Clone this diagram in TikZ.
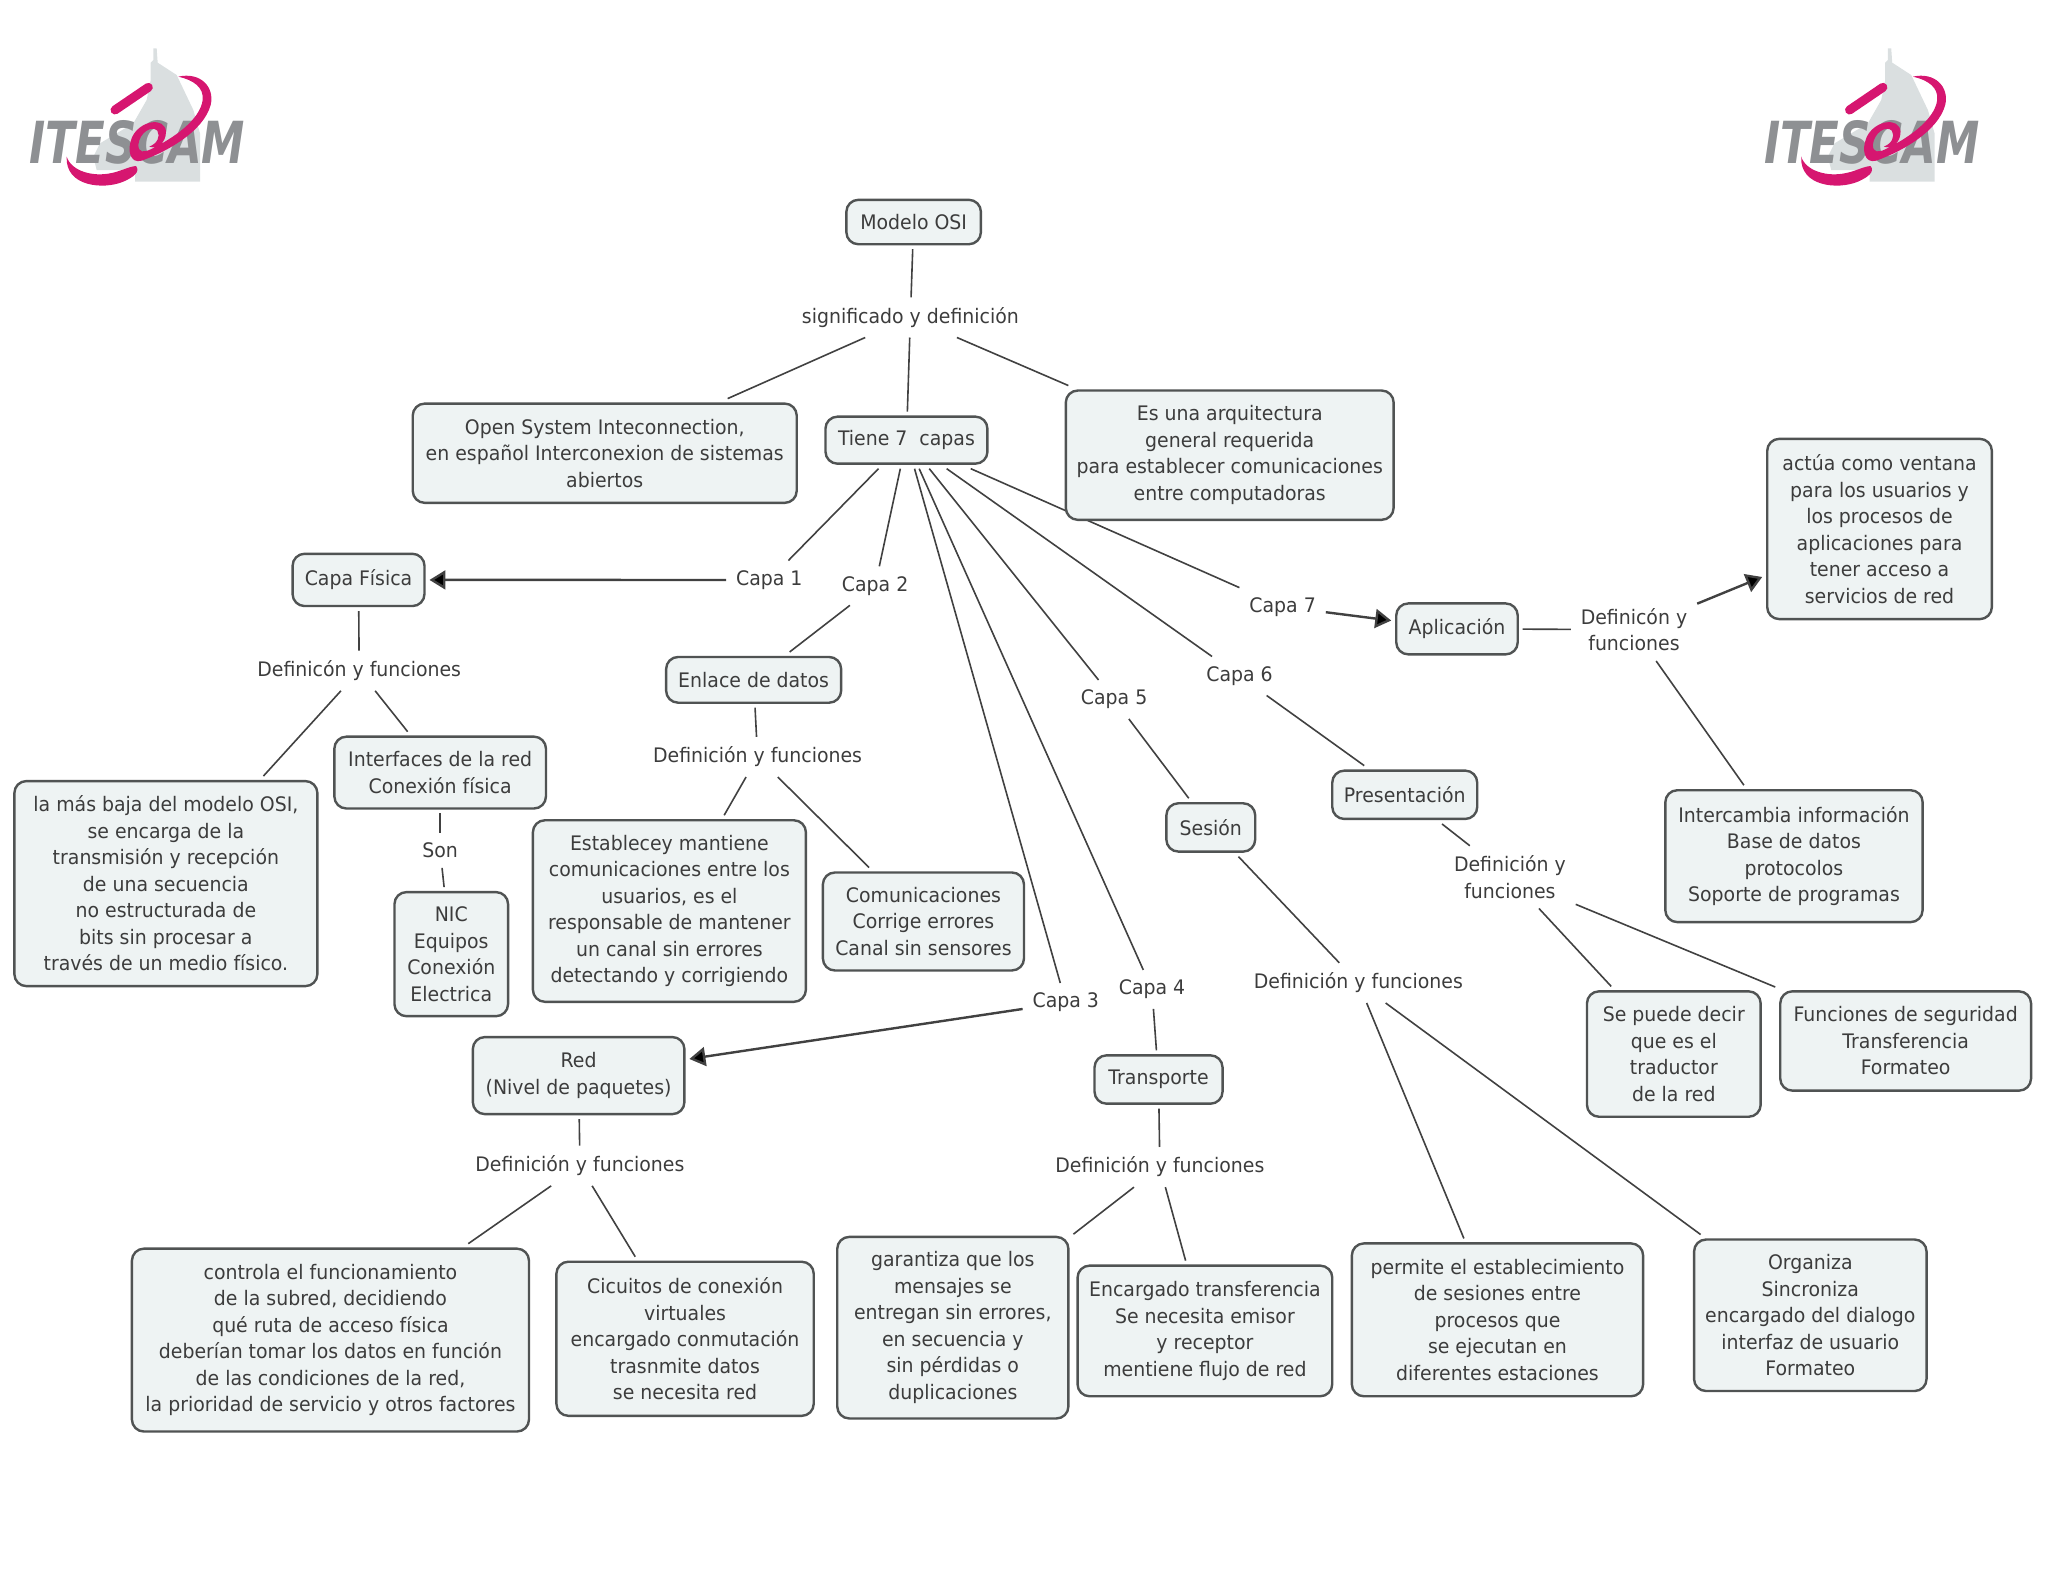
\documentclass[tikz,border=0pt]{standalone}
\usepackage{fontspec}
\setmainfont[FakeStretch=0.945]{DejaVu Sans}
\newfontfamily\fuentemarca[FakeStretch=0.75]{DejaVu Sans}
\usetikzlibrary{arrows.meta}
\usetikzlibrary{backgrounds}

\definecolor{fondocaja}{RGB}{238,243,243}
\definecolor{bordecaja}{RGB}{80,83,83}
\definecolor{texto}{RGB}{60,60,60}
\definecolor{linea}{RGB}{65,65,65}
\definecolor{rosa}{RGB}{214,22,112}
\definecolor{torre}{RGB}{218,223,224}
\definecolor{marca}{RGB}{142,144,147}

\tikzset{
    caja/.style 2 args={draw=bordecaja,fill=fondocaja,line width=1.2pt,rounded corners=6pt,
        align=center,inner sep=0pt,outer sep=2.5pt,text=texto,font=\fontsize{10}{13.25}\selectfont,
        minimum width=#1*0.65306pt,minimum height=#2*0.65306pt},
    rotulo/.style={align=center,inner sep=1pt,outer sep=4pt,yshift=-1pt,text=texto,font=\fontsize{10}{13.25}\selectfont},
    union/.style={draw=linea,line width=0.8pt},
    flecha/.style={draw=linea,line width=1.2pt,-{Triangle[length=8pt,width=9.5pt,fill=black]}},
    logo/.pic={
        \begin{scope}[x=0.16667pt,y=-0.16667pt]
            \fill[torre] (460,145) -- (470,145) -- (473,188) -- (530,225) -- (580,330) -- (600,400) -- (600,545)
                -- (405,545) -- (405,510) -- (290,510) -- (280,470) -- (300,430) -- (400,370)
                -- (440,300) -- (452,240) -- (452,188) -- (460,180) -- cycle;
            \node[inner sep=0pt,text=marca,font=\fontsize{29}{29}\fuentemarca\bfseries\itshape\selectfont] (-marca) at (412,428) {ITESCAM};
            \draw[rosa,line width=4.5pt,line cap=round] (345,330) -- (445,262);
            \fill[rosa] (535,230) .. controls (600,215) and (645,260) .. (632,315)
                .. controls (610,395) and (500,455) .. (425,482)
                .. controls (390,492) and (380,450) .. (396,412)
                .. controls (420,360) and (495,350) .. (498,395)
                .. controls (498,430) and (470,448) .. (448,440)
                .. controls (472,430) and (482,410) .. (472,392)
                .. controls (455,375) and (418,398) .. (415,435)
                .. controls (415,458) and (432,458) .. (452,448)
                .. controls (520,415) and (600,360) .. (608,300)
                .. controls (612,262) and (580,240) .. (535,230) -- cycle;
            \fill[rosa] (200,470) .. controls (215,515) and (280,530) .. (330,520)
                .. controls (360,515) and (385,500) .. (408,498)
                .. controls (422,515) and (400,532) .. (370,545)
                .. controls (310,570) and (195,560) .. (200,470) -- cycle;
        \end{scope}
    }
}

\begin{document}
\begin{tikzpicture}[x=0.65306pt,y=-0.65306pt]
    \useasboundingbox (0,0) rectangle (1568,1211.2);

    \pic (logoizq) at (0,0) {logo};
    \pic (logoder) at (1328,0) {logo};

    % conceptos
    \node[caja={103}{34}] (modelo) at (699.5,170) {Modelo OSI};
    \node[caja={294}{76}] (abierto) at (463,347) {Open System Inteconnection,\\en español Interconexion de sistemas\\abiertos};
    \node[caja={124}{36}] (capas) at (694,337) {Tiene 7\ \ capas};
    \node[caja={251}{99}] (arquitectura) at (941.5,348.5) {Es una arquitectura\\general requerida\\para establecer comunicaciones\\entre computadoras};
    \node[caja={101}{40}] (fisica) at (274.5,444) {Capa Física};
    \node[caja={134}{35}] (enlace) at (577,520.5) {Enlace de datos};
    \node[caja={162}{55}] (interfaces) at (337,591.5) {Interfaces de la red\\Conexión física};
    \node[caja={232}{157}] (baja) at (127,676.5) {la más baja del modelo OSI,\\se encarga de la\\transmisión y recepción\\de una secuencia\\no estructurada de\\bits sin procesar a\\través de un medio físico.};
    \node[caja={87}{95}] (nic) at (345.5,730.5) {NIC\\Equipos\\Conexión\\Electrica};
    \node[caja={209}{139}] (establece) at (512.5,697.5) {Establecey mantiene\\comunicaciones entre los\\usuarios, es el\\responsable de mantener\\un canal sin errores\\detectando y corrigiendo};
    \node[caja={154}{75}] (comunica) at (707,705.5) {Comunicaciones\\Corrige errores\\Canal sin sensores};
    \node[caja={162}{59}] (red) at (443,823.5) {Red\\(Nivel de paquetes)};
    \node[caja={98}{37}] (transporte) at (887,826.5) {Transporte};
    \node[caja={68}{37}] (sesion) at (927,633.5) {Sesión};
    \node[caja={111}{37}] (presenta) at (1075.5,608.5) {Presentación};
    \node[caja={93}{39}] (aplica) at (1115.5,481.5) {Aplicación};
    \node[caja={172}{138}] (ventana) at (1439,405) {actúa como ventana\\para los usuarios y\\los procesos de\\aplicaciones para\\tener acceso a\\servicios de red};
    \node[caja={197}{101}] (intercambia) at (1373.5,655.5) {Intercambia información\\Base de datos\\protocolos\\Soporte de programas};
    \node[caja={133}{96}] (traductor) at (1281.5,807) {Se puede decir\\que es el\\traductor\\de la red};
    \node[caja={192}{76}] (seguridad) at (1459,797) {Funciones de seguridad\\Transferencia\\Formateo};
    \node[caja={304}{140}] (controla) at (253,1026) {controla el funcionamiento\\de la subred, decidiendo\\qué ruta de acceso física\\deberían tomar los datos en función\\de las condiciones de la red,\\la prioridad de servicio y otros factores};
    \node[caja={197}{118}] (circuitos) at (524.5,1025) {Cicuitos de conexión\\virtuales\\encargado conmutación\\trasnmite datos\\se necesita red};
    \node[caja={177}{139}] (garantiza) at (729.5,1016.5) {garantiza que los\\mensajes se\\entregan sin errores,\\en secuencia y\\sin pérdidas o\\duplicaciones};
    \node[caja={195}{100}] (encargado) at (922.5,1019) {Encargado transferencia\\Se necesita emisor\\y receptor\\mentiene flujo de red};
    \node[caja={223}{117}] (permite) at (1146.5,1010.5) {permite el establecimiento\\de sesiones entre\\procesos que\\se ejecutan en\\diferentes estaciones};
    \node[caja={178}{116}] (organiza) at (1386,1007) {Organiza\\Sincroniza\\encargado del dialogo\\interfaz de usuario\\Formateo};

    % frases de enlace
    \node[rotulo] (significado) at (697,241.5) {significado y definición};
    \node[rotulo] (capa1) at (589,442.5) {Capa 1};
    \node[rotulo] (capa2) at (670,447) {Capa 2};
    \node[rotulo] (capa3) at (816,766) {Capa 3};
    \node[rotulo] (capa4) at (882,756) {Capa 4};
    \node[rotulo] (capa5) at (853,534) {Capa 5};
    \node[rotulo] (capa6) at (949,516) {Capa 6};
    \node[rotulo] (capa7) at (982,463) {Capa 7};
    \node[rotulo] (deffisica) at (275,512) {Definicón y funciones};
    \node[rotulo] (son) at (337,649.5) {Son};
    \node[rotulo] (defenlace) at (580,578) {Definición y funciones};
    \node[rotulo] (defred) at (444,891) {Definición y funciones};
    \node[rotulo] (deftrans) at (888,892) {Definición y funciones};
    \node[rotulo] (defsesion) at (1040,751) {Definición y funciones};
    \node[rotulo] (defpresenta) at (1156,670) {Definición y\\funciones};
    \node[rotulo] (defaplica) at (1251,480.5) {Definicón y\\funciones};

    % uniones
    \begin{scope}[on background layer]
        \draw[union] (modelo) -- (significado);
        \draw[union] (significado) -- (abierto);
        \draw[union] (significado) -- (capas);
        \draw[union] (significado) -- (arquitectura);
        \foreach \n in {1,...,7}
            \draw[union] (capas) -- (capa\n);
        \draw[flecha] (capa1) -- (fisica);
        \draw[union] (capa2) -- (enlace);
        \draw[flecha] (capa3) -- (red);
        \draw[union] (capa4) -- (transporte);
        \draw[union] (capa5) -- (sesion);
        \draw[union] (capa6) -- (presenta);
        \draw[flecha] (capa7) -- (aplica);
        \draw[union] (fisica) -- (deffisica);
        \draw[union] (deffisica) -- (baja);
        \draw[union] (deffisica) -- (interfaces);
        \draw[union] (interfaces) -- (son);
        \draw[union] (son) -- (nic);
        \draw[union] (enlace) -- (defenlace);
        \draw[union] (defenlace) -- (establece);
        \draw[union] (defenlace) -- (comunica);
        \draw[union] (red) -- (defred);
        \draw[union] (defred) -- (controla);
        \draw[union] (defred) -- (circuitos);
        \draw[union] (transporte) -- (deftrans);
        \draw[union] (deftrans) -- (garantiza);
        \draw[union] (deftrans) -- (encargado);
        \draw[union] (sesion) -- (defsesion);
        \draw[union] (defsesion) -- (permite);
        \draw[union] (defsesion) -- (organiza);
        \draw[union] (presenta) -- (defpresenta);
        \draw[union] (defpresenta) -- (traductor);
        \draw[union] (defpresenta) -- (seguridad);
        \draw[union] (aplica) -- (defaplica);
        \draw[flecha] (defaplica) -- (ventana);
        \draw[union] (defaplica) -- (intercambia);
    \end{scope}
\end{tikzpicture}
\end{document}
